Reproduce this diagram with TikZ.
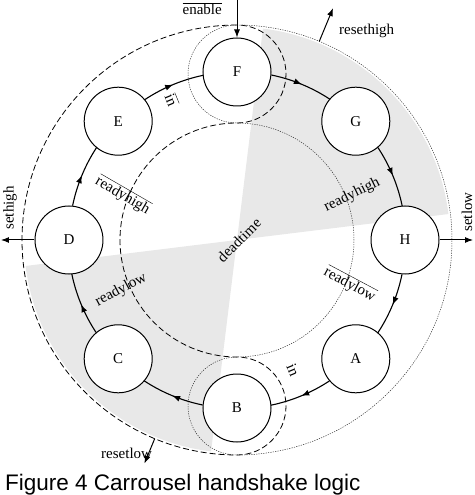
\documentclass[tikz,border=0pt]{standalone}
\usepackage{fontspec}
\setmainfont{Liberation Serif}
\newfontfamily\capfont{Liberation Sans}
\usetikzlibrary{decorations.markings,arrows.meta}
\begin{document}
\begin{tikzpicture}[
  state/.style={circle, draw, line width=1pt, fill=white, minimum size=68pt, inner sep=0pt, font=\fontsize{15}{18}\selectfont},
  lbl/.style={font=\fontsize{15}{18}\selectfont, inner sep=1pt},
  ring/.style={line width=1.1pt, postaction={decorate}, decoration={markings, mark=at position 0.5 with {\arrow{Latex[length=8pt,width=6pt]}}}},
  outarrow/.style={line width=1pt, -{Latex[length=8pt,width=6pt]}},
  dashreg/.style={line width=0.8pt, dash pattern=on 6pt off 3pt},
  dotreg/.style={line width=0.5pt, dash pattern=on 1.2pt off 1.2pt, black!80},
  shade/.style={fill=black!9}
]
\useasboundingbox (-237pt,-255pt) rectangle (237pt,240pt);
% grey sectors
\fill[shade] (0,0) -- (7:213pt) arc[start angle=7, end angle=83, radius=213pt] -- cycle;
\fill[shade] (0,0) -- (187:213pt) arc[start angle=187, end angle=263, radius=213pt] -- cycle;
% dashed (left) and dotted (right) regions
\draw[dashreg] (90:215pt) arc[start angle=90, end angle=270, radius=215pt]
  arc[start angle=-90, end angle=90, radius=49pt]
  arc[start angle=270, end angle=90, radius=117pt]
  arc[start angle=-90, end angle=90, radius=49pt] -- cycle;
\draw[dotreg] (90:215pt) arc[start angle=90, end angle=-90, radius=215pt]
  arc[start angle=-90, end angle=-270, radius=49pt]
  arc[start angle=-90, end angle=90, radius=117pt]
  arc[start angle=270, end angle=90, radius=49pt] -- cycle;
% states
\foreach \n/\a in {F/90,G/45,H/0,A/-45,B/-90,C/-135,D/180,E/135}
  \node[state] (\n) at (\a:168pt) {\n};
% ring transitions
\foreach \n/\a in {F/90,G/45,H/0,A/-45,B/-90,C/-135,D/180,E/135}{
  \pgfmathsetmacro{\s}{\a-95.81}
  \pgfmathsetmacro{\sa}{\a-11.62}
  \pgfmathsetmacro{\ea}{\a-33.38}
  \draw[ring] (\n.\s) arc[start angle=\sa, end angle=\ea, radius=168pt];
}
% outputs / inputs
\coordinate (enTop) at (0,240pt);
\draw[outarrow] (enTop) -- (F.north);
\node[lbl, anchor=base east] (enable) at (-14pt,225pt) {$\overline{\mbox{enable}}$};
\coordinate (rhs) at (67.5:215pt);
\coordinate (rhe) at (67.5:251pt);
\draw[outarrow] (rhs) -- (rhe);
\node[lbl, anchor=base west] (resethigh) at (101pt,205pt) {resethigh};
\coordinate (rls) at (247.5:215pt);
\coordinate (rle) at (247.5:242pt);
\draw[outarrow] (rls) -- (rle);
\node[lbl, anchor=base west] (resetlow) at (-137pt,-218pt) {resetlow};
\coordinate (slEnd) at (236pt,0);
\draw[outarrow] (H.east) -- (slEnd);
\node[lbl, rotate=90] (setlow) at (230pt,28pt) {setlow};
\coordinate (shEnd) at (-236pt,0);
\draw[outarrow] (D.west) -- (shEnd);
\node[lbl, rotate=90] (sethigh) at (-227pt,32pt) {sethigh};
% inner labels
\node[lbl, rotate=-67.5] (in1) at (-65pt,140pt) {$\overline{\mbox{in}}$};
\node[lbl, rotate=-67.5] (in2) at (56pt,-130pt) {in};
\node[lbl, rotate=-30] (rh1) at (-114pt,45pt) {$\overline{\mbox{readyhigh}}$};
\node[lbl, rotate=28] (rl1) at (-116pt,-50pt) {readylow};
\node[lbl, rotate=26] (rh2) at (115pt,45pt) {readyhigh};
\node[lbl, rotate=-28] (rl2) at (113pt,-44pt) {$\overline{\mbox{readylow}}$};
\node[lbl, rotate=45] (dt) at (2pt,0pt) {deadtime};
% caption
\node[anchor=base west, font=\capfont\fontsize{22.5}{26}\selectfont, inner sep=0pt] (cap) at (-232pt,-250pt) {Figure 4 Carrousel handshake logic};
\end{tikzpicture}
\end{document}
